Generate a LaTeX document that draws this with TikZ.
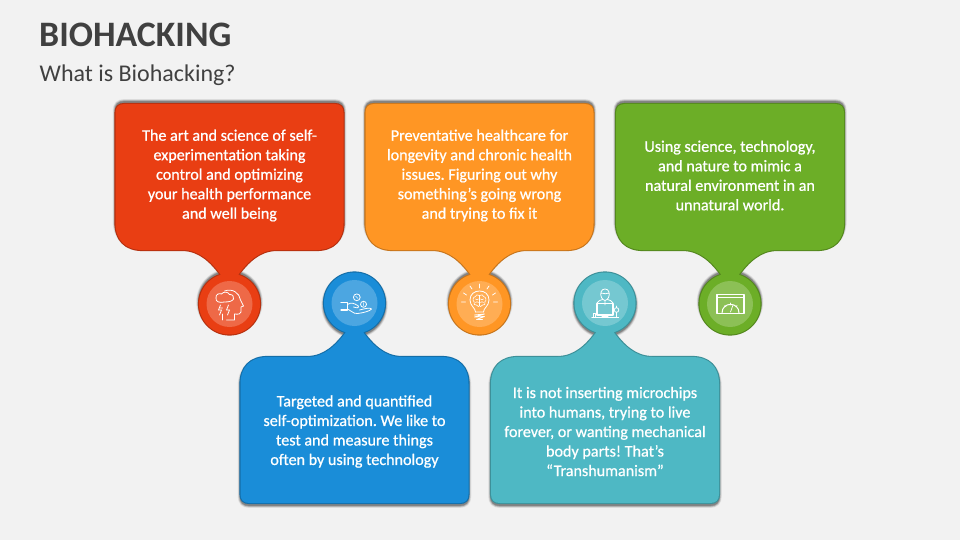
\documentclass[tikz,border=0pt]{standalone}
\usepackage{fontspec}
\setmainfont{Carlito}
\newfontfamily\bodyfont[FakeBold=0.8]{Carlito}
\definecolor{bgc}{HTML}{F2F2F2}
\definecolor{redc}{HTML}{E93E13}
\definecolor{bluec}{HTML}{1A8DD8}
\definecolor{orangec}{HTML}{FF9624}
\definecolor{tealc}{HTML}{4EB8C4}
\definecolor{greenc}{HTML}{6CAE27}
\definecolor{inkc}{HTML}{404040}
\frenchspacing
\tikzset{x=1pt,y=-1pt,
 icon/.style={draw=white,line width=0.8pt,fill=none,line join=round,line cap=round},
 bodytext/.style={text=white,align=center,font=\bodyfont\fontsize{16.1}{19.5}\selectfont\frenchspacing,inner sep=0pt},
}
% shape outline, in local coordinates: circle at the origin, box above it
\newcommand{\calloutpath}{
  (-8.5,-29) .. controls (-18,-42) and (-30,-54) .. (-47,-54)
  -- (-87,-54) .. controls (-104,-54) and (-114,-64) .. (-114,-81)
  -- (-114,-191) .. controls (-114,-197) and (-111,-200) .. (-105,-200)
  -- (105,-200) .. controls (111,-200) and (114,-197) .. (114,-191)
  -- (114,-81) .. controls (114,-64) and (104,-54) .. (87,-54)
  -- (47,-54) .. controls (30,-54) and (18,-42) .. (8.5,-29) -- cycle
  (0,0) circle[radius=30.5]
}
\newcommand{\callout}[4]{% x, y, flip, colour
  \begin{scope}[shift={(#1,#2)},yscale=#3]
    \foreach \w/\g in {5.5/7,4.4/14,3.4/23,2.4/34,1.4/46}{
      \begin{scope}[shift={(0,-2.2)}]
      \draw[draw=black!\g!bgc,fill=black!\g!bgc,line width=\w pt] \calloutpath;
      \end{scope}
    }
    \draw[draw=#4!78!black,fill=#4!78!black,line width=2.2pt] \calloutpath;
    \fill[#4] \calloutpath;
    \fill[#4!78!white] (0,0) circle[radius=23];
  \end{scope}
}
\begin{document}
\begin{tikzpicture}
\useasboundingbox (0,0) rectangle (960,540);
\fill[bgc] (0,0) rectangle (960,540);
\node[anchor=base west,inner sep=0pt,text=inkc,font=\fontsize{35.8}{36}\selectfont\bfseries] (title) at (39,46.5) {BIOHACKING};
\node[anchor=base west,inner sep=0pt,text=inkc,font=\fontsize{24}{24}\selectfont] (subtitle) at (39.5,82) {What is Biohacking?};

\callout{229.5}{304}{1}{redc}
\callout{354.5}{303}{-1}{bluec}
\callout{479.5}{304}{1}{orangec}
\callout{605}{303}{-1}{tealc}
\callout{730}{304}{1}{greenc}

\node[bodytext] (t1) at (229.5,175.5) {The art and science of self-\\experimentation taking\\control and optimizing\\your health performance\\and well being};
\node[bodytext] (t2) at (354.5,431.5) {Targeted and quantified\\self-optimization. We like to\\test and measure things\\often by using technology};
\node[bodytext] (t3) at (479.5,175.5) {Preventative healthcare for\\longevity and chronic health\\issues. Figuring out why\\something’s going wrong\\and trying to fix it};
\node[bodytext] (t4) at (605,431.5) {It is not inserting microchips\\into humans, trying to live\\forever, or wanting mechanical\\body parts! That’s\\“Transhumanism”};
\node[bodytext] (t5) at (730,175.5) {Using science, technology,\\and nature to mimic a\\natural environment in an\\unnatural world.};

% head with storm cloud
\begin{scope}[shift={(229.5,304)}]
 \draw[icon] (-5,-13) .. controls (3,-16) and (10,-11) .. (11,-4) -- (14,2) -- (11.5,3) -- (11.5,8) .. controls (11.5,10) and (9,10.5) .. (5,10) -- (5,16) -- (-3,16);
 \draw[icon] (-7,10) -- (-7,16);
 \draw[icon] (-5,-2) .. controls (-10,-1) and (-14,-2) .. (-13.5,-6) .. controls (-14,-10) and (-10,-11) .. (-8,-10) .. controls (-6,-13) and (-1,-12) .. (0,-9.5) .. controls (3,-10) and (5,-7) .. (4,-5) .. controls (3,-3) and (0,-2) .. (-5,-2);
 \draw[icon] (-9,1) -- (-11,6) -- (-8,6) -- (-10,11) (-9,4) -- (-7,4);
 \draw[icon] (-1,1) -- (-3,6) -- (0,6) -- (-2,11);
\end{scope}
% hand with coins
\begin{scope}[shift={(354.5,303)}]
 \draw[icon,line width=1.1pt] (-13.5,-0.5) -- (-7,-0.5) -- (-7,7) -- (-13.5,7);
 \draw[icon] (-7,1.5) .. controls (-3,-1) and (-1,0) .. (4,3) .. controls (5.5,4.5) and (3,5.5) .. (-1,4);
 \draw[icon] (-7,6) .. controls (-3,7) and (-2,11) .. (3,10.5) .. controls (8,10) and (16,8) .. (17,6) .. controls (16,4) and (9,6) .. (5,7);
 \draw[icon] (2.3,-5.7) circle[radius=3.4] (9,1.3) circle[radius=3];
 \draw[icon,line width=.5pt] (1,-7) -- (3.5,-4.5) (9,-0.3) -- (9,3);
\end{scope}
% light bulb with brain
\begin{scope}[shift={(479.5,304)}]
 \draw[icon] (-4,8) .. controls (-4,4) and (-9.5,2) .. (-9.5,-4) .. controls (-9.5,-10) and (-5,-13) .. (0,-13) .. controls (5,-13) and (9.5,-10) .. (9.5,-4) .. controls (9.5,2) and (4,4) .. (4,8);
 \draw[icon] (-4,8) -- (4,8) (-5,11) -- (5,10) -- (-5,13) -- (5,12.5) -- (-3,15.5) -- (3,15.5);
 \draw[icon,line width=.6pt] (0,-8.5) .. controls (-2,-10) and (-4,-9) .. (-4,-7.5) .. controls (-7,-7) and (-7,-3) .. (-5.5,-2.5) .. controls (-7,0) and (-4,2) .. (-3,1) .. controls (-2,3) and (0,3) .. (0,1.5) .. controls (0,3) and (2,3) .. (3,1) .. controls (4,2) and (7,0) .. (5.5,-2.5) .. controls (7,-3) and (7,-7) .. (4,-7.5) .. controls (4,-9) and (2,-10) .. (0,-8.5) -- (0,1.5) (-4,-5) .. controls (-3,-4) and (-2,-4) .. (-1,-5) (4,-5) .. controls (3,-4) and (2,-4) .. (1,-5) (-4,-1.5) .. controls (-3,-2.5) and (-2,-2.5) .. (-1,-1.5) (4,-1.5) .. controls (3,-2.5) and (2,-2.5) .. (1,-1.5);
 \draw[icon] (0,-16) -- (0,-20) (-7.5,-15) -- (-9.5,-18) (7.5,-15) -- (9.5,-18) (-13,-9) -- (-16,-11) (13,-9) -- (16,-11) (-14,-2) -- (-18,-2) (14,-2) -- (18,-2);
\end{scope}
% person at a laptop
\begin{scope}[shift={(605,303)}]
 \draw[icon] (-4,-11) .. controls (-3,-15) and (3,-15) .. (4,-11) .. controls (5,-7) and (3,-3) .. (0,-2.5) .. controls (-3,-3) and (-5,-7) .. (-4,-11) (-4,-10) .. controls (-1,-9) and (2,-9) .. (4,-10);
 \draw[icon] (-8,0) .. controls (-7,-3) and (-4,-2.5) .. (-2.5,-3.5) (8,0) .. controls (7,-3) and (4,-2.5) .. (2.5,-3.5) (0,-2.5) -- (0,2);
 \draw[icon,line width=1.1pt] (-8,0.5) rectangle (8,12) (-13,14.5) -- (13.5,14.5);
 \draw[icon,line width=1.1pt] (-3,14) -- (3,14);
 \draw[icon] (-12,14) -- (-12,10) -- (-9.5,10) -- (-9.5,14);
 \draw[icon] (11.5,7) circle[radius=2.3] (11.5,9.3) -- (11.5,14) (11.5,4) -- (11.5,3);
\end{scope}
% browser window with gauge
\begin{scope}[shift={(730,304)}]
 \draw[icon,line width=1.3pt,line cap=butt] (-13,-9.5) rectangle (14,9.5);
 \draw[icon,line width=.7pt] (-13,-6.5) -- (14,-6.5);
 \draw[icon,line width=1pt] (-8,9) .. controls (-8,-2.5) and (9,-2.5) .. (9,9);
 \draw[icon,line width=.7pt] (0.5,8) -- (3,1) (-4,3) -- (-5.5,1.5) (5.5,3) -- (7,1.5) (0.5,1) -- (0.5,-1);
\end{scope}
\end{tikzpicture}
\end{document}
